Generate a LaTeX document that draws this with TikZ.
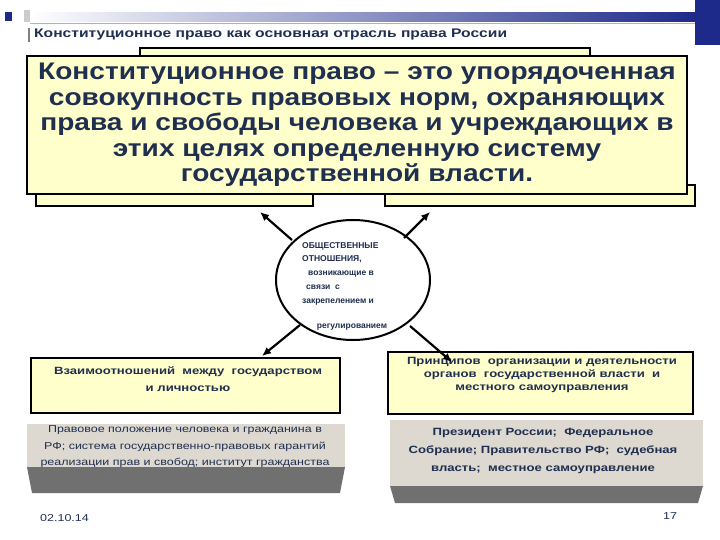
\documentclass[tikz,border=0pt]{standalone}
\usepackage{fontspec}
\setmainfont{Liberation Sans}
\newfontfamily\wide[FakeStretch=1.17]{Liberation Sans}
\newfontfamily\narr[FakeStretch=1.25]{Liberation Sans}
\usetikzlibrary{shapes.geometric,arrows.meta}
\definecolor{navy}{HTML}{1F2F4F}
\definecolor{ylw}{HTML}{FFFFCC}
\definecolor{gface}{HTML}{DDD8D0}
\definecolor{gdark}{HTML}{707070}
\definecolor{bdark}{HTML}{1E2A8A}
\tikzset{
 ybox/.style={draw=black,line width=2pt,fill=ylw},
 arr/.style={line width=2.2pt,-{Latex[length=9pt,width=8pt]}},
 txt/.style={text=navy,align=center,inner sep=0pt}
}
\begin{document}
\begin{tikzpicture}[x=1pt,y=-1pt]
\useasboundingbox (0,0) rectangle (720,540);
\fill[white] (0,0) rectangle (720,540);
% header decoration
\shade[left color=white,right color=bdark] (30,13) rectangle (695,22);
\fill[bdark] (5,12) rectangle (12,21);
\fill[gray!40] (24,10) rectangle (30,22);
\fill[bdark] (695,0) rectangle (720,45);
\draw[gray!60,line width=1pt] (30,24) -- (695,24);
\fill[gray] (28,28) rectangle (30,42);
\node[txt,anchor=west,font=\narr\bfseries\fontsize{12.5}{14}\selectfont] (title) at (34,35) {Конституционное право как основная отрасль права России};
% back boxes
\draw[ybox,line width=1.5pt] (140,48) rectangle (590,60);
\draw[ybox,line width=1.5pt] (36,185) rectangle (313,206);
\draw[ybox,line width=1.5pt] (385,185) rectangle (695,206);
% main box
\node[ybox,minimum width=660pt,minimum height=138pt,anchor=north west,inner sep=0pt] (main) at (26,55) {};
\node[txt,font=\wide\bfseries\fontsize{24}{25.5}\selectfont] at (main.center) {Конституционное право – это упорядоченная\\совокупность правовых норм, охраняющих\\права и свободы человека и учреждающих в\\этих целях определенную систему\\государственной власти.};
% ellipse
\node[ellipse,draw=black,line width=2pt,fill=white,minimum width=154pt,minimum height=120pt] (ell) at (353,280) {};
\node[txt,font=\bfseries\fontsize{8.5}{13.8}\selectfont,align=left,anchor=north west] at (302,242) {ОБЩЕСТВЕННЫЕ\\ОТНОШЕНИЯ,\\\hspace*{6pt}возникающие в\\\hspace*{4pt}связи \ с\\закрепелением и};
\node[txt,font=\bfseries\fontsize{8.5}{11}\selectfont] at (352,327) {регулированием};
% lower boxes
\draw[ybox] (31,358) rectangle (340,413);
\node[txt,font=\narr\bfseries\fontsize{10.5}{17}\selectfont] (lb) at (188,379) {Взаимоотношений \ между \ государством\\и личностью};
\draw[ybox] (388,352) rectangle (693,414);
\node[txt,font=\narr\bfseries\fontsize{10.5}{13}\selectfont] (rb) at (542,375) {Принципов \ организации и деятельности\\органов \ государственной власти \ и\\местного самоуправления};
% arrows
\coordinate (a1) at (260,212);
\coordinate (a2) at (430,212);
\coordinate (a3) at (262,356);
\coordinate (a4) at (452,362);
\draw[arr] (292,240) -- (a1);
\draw[arr] (404,238) -- (a2);
\draw[arr] (300,325) -- (a3);
\draw[arr] (410,326) -- (a4);
% gray 3d boxes
\fill[gface] (27,424) rectangle (345,467);
\fill[gdark] (27,467) -- (345,467) -- (340,493) -- (32,493) -- cycle;
\node[txt,font=\narr\fontsize{10}{16.5}\selectfont] (g1) at (185,447) {Правовое положение человека и гражданина в\\РФ; система государственно-правовых гарантий\\реализации прав и свобод; институт гражданства};
\fill[gface] (390,420) rectangle (703,486);
\fill[gdark] (390,486) -- (703,486) -- (698,503) -- (395,503) -- cycle;
\node[txt,font=\narr\bfseries\fontsize{10.5}{18}\selectfont] (g2) at (543,451) {Президент России; \ Федеральное\\Собрание; Правительство РФ; \ судебная\\власть; \ местное самоуправление};
% footer
\node[font=\narr\fontsize{10}{12}\selectfont,text=navy,anchor=west,inner sep=0pt] (date) at (40,518) {02.10.14};
\node[font=\narr\fontsize{10}{12}\selectfont,text=navy] (num) at (670,516) {17};
\end{tikzpicture}
\end{document}
